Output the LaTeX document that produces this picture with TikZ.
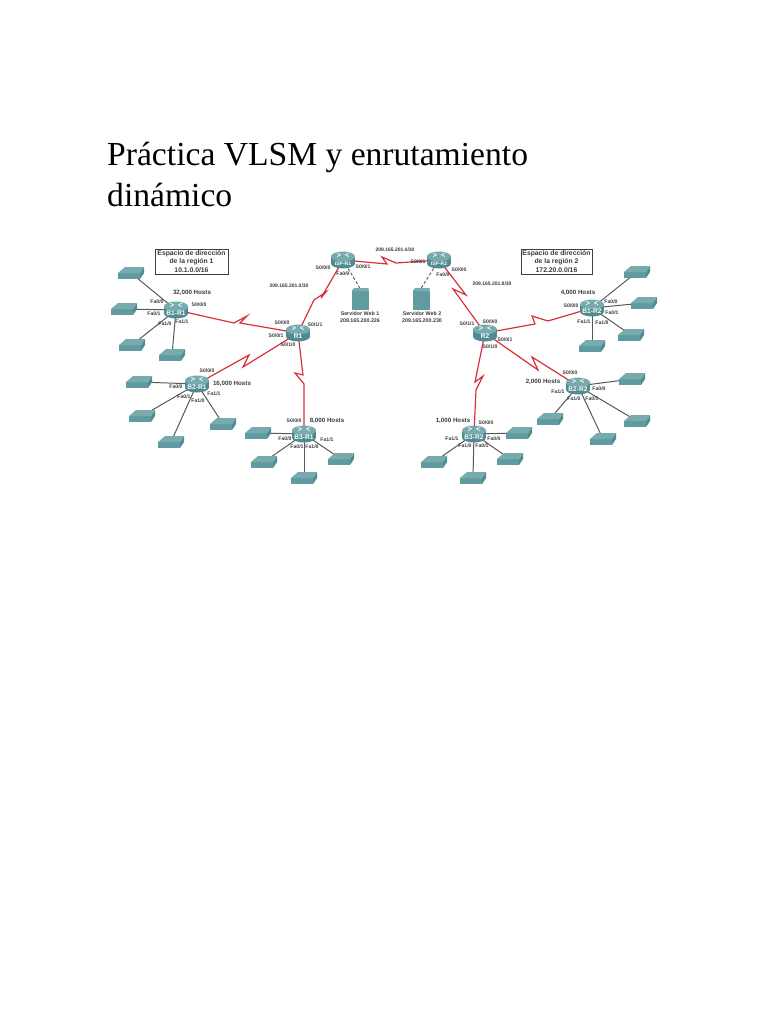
\documentclass[tikz,border=0pt]{standalone}
\usepackage{fontspec}
\setmainfont{Liberation Serif}
\newfontfamily\labelfont{Liberation Sans}
\usetikzlibrary{backgrounds}
\definecolor{tealtop}{HTML}{78ABAE}
\definecolor{tealmid}{HTML}{5F9BA0}
\definecolor{tealdark}{HTML}{4F8B91}
\definecolor{wanred}{HTML}{D8303A}
\definecolor{lanline}{HTML}{555A5B}
\definecolor{labelgray}{HTML}{3A3A3A}
\tikzset{
  wan/.style={draw=wanred,line width=1.2pt,line join=miter},
  lan/.style={draw=lanline,line width=1pt},
  srvlink/.style={draw=lanline,line width=0.9pt,dash pattern=on 3pt off 2pt},
  iface/.style={font=\labelfont\bfseries\fontsize{5.1}{6}\selectfont,text=labelgray,inner sep=0pt},
  hosts/.style={font=\labelfont\bfseries\fontsize{6.2}{7}\selectfont,text=labelgray,inner sep=0pt},
  addr/.style={font=\labelfont\bfseries\fontsize{5}{6}\selectfont,text=labelgray,inner sep=0pt},
  srvtext/.style={font=\labelfont\bfseries\fontsize{5.3}{7}\selectfont,text=labelgray,inner sep=0pt,align=center},
  spacebox/.style={draw=black!75,line width=0.8pt,fill=white,inner sep=0pt,align=center,
    font=\labelfont\bfseries\fontsize{6.8}{8.4}\selectfont,text=labelgray},
  routershape/.style={minimum width=24pt,minimum height=17pt,inner sep=0pt,text=white,
    font=\labelfont\bfseries\fontsize{6.6}{7}\selectfont},
  switchshape/.style={minimum width=26pt,minimum height=12pt,inner sep=0pt},
  servershape/.style={minimum width=17pt,minimum height=21pt,inner sep=0pt},
  titletext/.style={font=\fontsize{33.6}{41}\selectfont,text=black,inner sep=0pt,anchor=base west}
}
\newcommand\routericon[3]{%
  \begin{scope}[shift={(#2)}]
    \fill[tealdark] (-12,-3.5) rectangle (12,3.5);
    \fill[tealdark] (0,3.5) ellipse (12 and 5);
    \fill[tealtop] (0,-3.5) ellipse (12 and 5);
    \draw[white,line width=0.6pt] (-6,-7) -- (-2.5,-5.2) -- (-6,-3.4) (6,-7) -- (2.5,-5.2) -- (6,-3.4);
  \end{scope}
  \node[routershape] (#1) at (#2) {\raisebox{-5pt}[0pt][0pt]{#3}};
}
\newcommand\switchicon[2]{%
  \begin{scope}[shift={(#2)}]
    \fill[tealmid] (-13,0) -- (9,0) -- (9,6) -- (-13,6) -- cycle;
    \fill[tealdark] (9,0) -- (13,-6) -- (13,0) -- (9,6) -- cycle;
    \fill[tealtop] (-13,0) -- (-6,-6) -- (13,-6) -- (9,0) -- cycle;
  \end{scope}
  \node[switchshape] (#1) at (#2) {};
}
\newcommand\servericon[2]{%
  \begin{scope}[shift={(#2)}]
    \fill[tealmid] (-8.5,-8) rectangle (8.5,11);
    \fill[tealtop] (-8.5,-8) -- (-6,-11) -- (8.5,-11) -- (8.5,-8) -- cycle;
  \end{scope}
  \node[servershape] (#1) at (#2) {};
}
\begin{document}
\begin{tikzpicture}[x=1pt,y=-1pt]
\useasboundingbox (0,0) rectangle (768,1024);
\node[titletext] (title1) at (107,166) {Práctica VLSM y enrutamiento};
\node[titletext] (title2) at (107,207) {dinámico};

\routericon{ispA}{343,260}{\fontsize{5}{6}\selectfont ISP-R1}
\routericon{ispB}{439,260}{\fontsize{5}{6}\selectfont ISP-R2}
\routericon{bOneA}{176,310}{B1-R1}
\routericon{rOne}{298,333}{R1}
\routericon{rTwo}{485,333}{R2}
\routericon{bOneB}{592,308}{B1-R2}
\routericon{bTwoA}{197,384}{B2-R1}
\routericon{bThreeA}{304,434}{B3-R1}
\routericon{bThreeB}{474,434}{B3-R2}
\routericon{bTwoB}{578,386}{B2-R2}

\switchicon{s1}{131,273}
\switchicon{s2}{124,309}
\switchicon{s3}{132,345}
\switchicon{s4}{172,355}
\switchicon{s5}{637,272}
\switchicon{s6}{644,303}
\switchicon{s7}{631,335}
\switchicon{s8}{592,346}
\switchicon{s9}{139,382}
\switchicon{s10}{142,416}
\switchicon{s11}{171,442}
\switchicon{s12}{223,424}
\switchicon{s13}{258,433}
\switchicon{s14}{264,462}
\switchicon{s15}{304,478}
\switchicon{s16}{341,459}
\switchicon{s17}{632,379}
\switchicon{s18}{637,421}
\switchicon{s19}{603,439}
\switchicon{s20}{550,419}
\switchicon{s21}{519,433}
\switchicon{s22}{510,459}
\switchicon{s23}{473,478}
\switchicon{s24}{434,462}

\servericon{webA}{360,299}
\servericon{webB}{421,299}

\begin{scope}[on background layer]
  \foreach \a/\b in {bOneA/s1,bOneA/s2,bOneA/s3,bOneA/s4,
                     bOneB/s5,bOneB/s6,bOneB/s7,bOneB/s8,
                     bTwoA/s9,bTwoA/s10,bTwoA/s11,bTwoA/s12,
                     bThreeA/s13,bThreeA/s14,bThreeA/s15,bThreeA/s16,
                     bTwoB/s17,bTwoB/s18,bTwoB/s19,bTwoB/s20,
                     bThreeB/s21,bThreeB/s22,bThreeB/s23,bThreeB/s24}
    \draw[lan] (\a.center) -- (\b.center);
  \draw[srvlink] (ispA.center) -- (webA.north);
  \draw[srvlink] (ispB.center) -- (webB.north);
  \draw[wan] (bOneA.center) -- (234,323) -- (247,316) -- (240,323) -- (rOne.center);
  \draw[wan] (rOne.center) -- (314,300) -- (326,292) -- (321,298) -- (ispA.center);
  \draw[wan] (ispA.center) -- (387,264) -- (382,257) -- (396,263) -- (ispB.center);
  \draw[wan] (ispB.center) -- (466,295) -- (453,289) -- (rTwo.center);
  \draw[wan] (rTwo.center) -- (535,324) -- (532,316) -- (548,321) -- (bOneB.center);
  \draw[wan] (rOne.center) -- (243,367) -- (249,355) -- (bTwoA.center);
  \draw[wan] (rOne.center) -- (303,375) -- (295,373) -- (304,384) -- (bThreeA.center);
  \draw[wan] (rTwo.center) -- (475,382) -- (483,376) -- (476,390) -- (bThreeB.center);
  \draw[wan] (rTwo.center) -- (538,370) -- (532,357) -- (bTwoB.center);
\end{scope}

\node[spacebox,minimum width=73pt,minimum height=25pt] (spaceA) at (191.5,261.5) {Espacio de dirección\\de la región 1\\10.1.0.0/16};
\node[spacebox,minimum width=71pt,minimum height=25pt] (spaceB) at (556.5,261.5) {Espacio de dirección\\de la región 2\\172.20.0.0/16};

\node[srvtext] (webAtext) at (360,317.5) {Servidor Web 1\\209.165.200.226};
\node[srvtext] (webBtext) at (422,317.5) {Servidor Web 2\\209.165.200.230};

\foreach \x/\y/\t [count=\i] in {192/293/{32,000 Hosts},232/384/{16,000 Hosts},327/421/{8,000 Hosts},
    578/293/{4,000 Hosts},543/382/{2,000 Hosts},453/421/{1,000 Hosts}}
  \node[hosts] (hosts\i) at (\x,\y) {\t};

\foreach \x/\y/\t [count=\i] in {289/286/{209.165.201.0/30},395/250/{209.165.201.4/30},492/284/{209.165.201.8/30}}
  \node[addr] (net\i) at (\x,\y) {\t};

\foreach \x/\y/\t [count=\i] in {
    157/302/{Fa0/0},154/314/{Fa0/1},165/324/{Fa1/0},182/322/{Fa1/1},199/305/{S0/0/0},
    282/323/{S0/0/0},315/325/{S0/1/1},276/336/{S0/0/1},288/345/{S0/1/0},
    323/268/{S0/0/0},363/267/{S0/0/1},343/274/{Fa0/0},
    418/262/{S0/0/1},443/275/{Fa0/0},459/270/{S0/0/0},
    571/306/{S0/0/0},611/302/{Fa0/0},612/313/{Fa0/1},584/322/{Fa1/1},602/323/{Fa1/0},
    467/324/{S0/1/1},490/322/{S0/0/0},505/340/{S0/0/1},490/347/{S0/1/0},
    207/371/{S0/0/0},176/387/{Fa0/0},184/397/{Fa0/1},198/401/{Fa1/0},214/394/{Fa1/1},
    294/421/{S0/0/0},285/439/{Fa0/0},297/447/{Fa0/1},312/447/{Fa1/0},327/440/{Fa1/1},
    570/373/{S0/0/0},558/392/{Fa1/1},574/399/{Fa1/0},592/399/{Fa0/1},599/389/{Fa0/0},
    486/423/{S0/0/0},452/439/{Fa1/1},465/446/{Fa1/0},482/446/{Fa0/1},494/439/{Fa0/0}}
  \node[iface] (if\i) at (\x,\y) {\t};
\end{tikzpicture}
\end{document}
